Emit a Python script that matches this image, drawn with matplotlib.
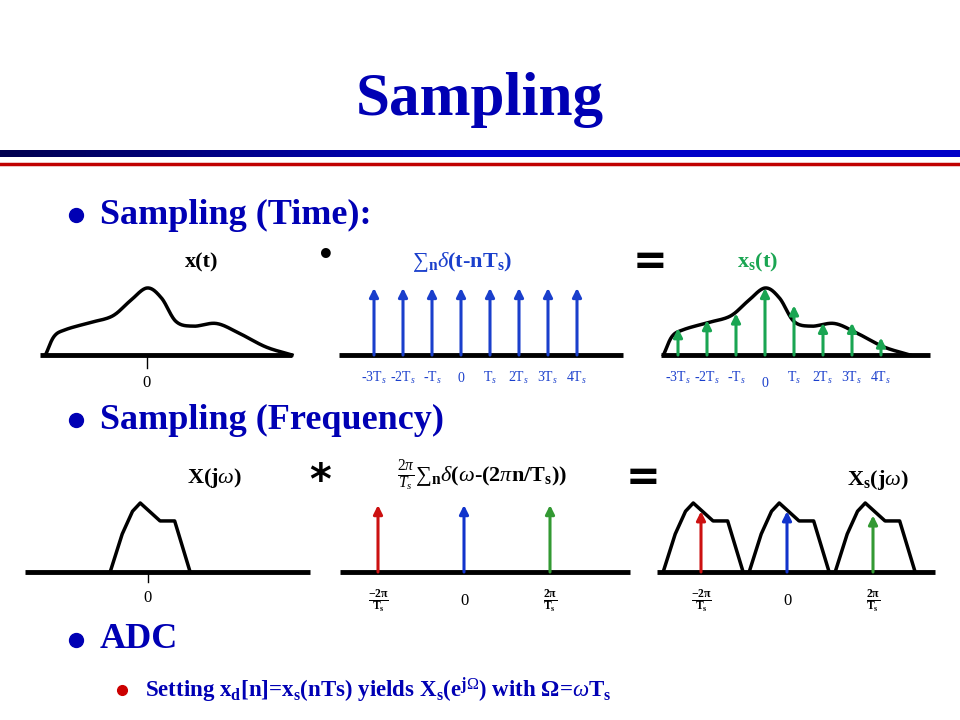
import numpy as np
import matplotlib.pyplot as plt
from matplotlib.colors import LinearSegmentedColormap

# === DATA ===
# x(t): control points, t in units of Ts, amplitude normalised to peak = 1
CURVE_T = [-3.5, -3.2, -2.8, -2.0, -1.2, -0.6, 0.0, 0.5, 1.0, 1.6, 2.4, 3.2, 4.1, 5.0]
CURVE_A = [0.0, 0.28, 0.38, 0.48, 0.58, 0.80, 1.0, 0.85, 0.50, 0.43, 0.47, 0.32, 0.12, 0.0]
COMB_N = [-3, -2, -1, 0, 1, 2, 3, 4]
COMB_LABELS = ["-3T$_s$", "-2T$_s$", "-T$_s$", "0", "T$_s$", "2T$_s$", "3T$_s$", "4T$_s$"]
SAMPLE_H = [0.40, 0.52, 0.62, 1.0, 0.74, 0.48, 0.48, 0.26]
# X(jw): piecewise shape, w in units of 2*pi/Ts
SPEC_W = [-0.44, -0.30, -0.18, -0.09, 0.14, 0.31, 0.49]
SPEC_A = [0.0, 0.55, 0.88, 1.0, 0.74, 0.74, 0.0]
FREQ_K = [-1, 0, 1]
FREQ_COLORS = ["#cc1111", "#1133cc", "#339933"]
FREQ_ARROW_H = [0.97, 0.97, 0.97]
FREQ_ARROW_H2 = [0.88, 0.88, 0.82]

BLUE = "#0000b4"
TBLUE = "#1a3fcc"
GREEN = "#1aa552"
SERIF = "Liberation Serif"

plt.rcParams["mathtext.fontset"] = "custom"
plt.rcParams["mathtext.rm"] = SERIF
plt.rcParams["mathtext.it"] = SERIF + ":italic"
plt.rcParams["mathtext.bf"] = SERIF + ":bold"

fig = plt.figure(figsize=(9.6, 7.2), dpi=100)
base = fig.add_axes([0, 0, 1, 1])
base.set_xlim(0, 960); base.set_ylim(720, 0); base.axis("off")


def panel(zero_px, base_px, xscale, yscale):
    """Transparent full-figure axes whose origin sits at the given pixel."""
    ax = fig.add_axes([0, 0, 1, 1], facecolor="none")
    ax.set_xlim(-zero_px / xscale, (960 - zero_px) / xscale)
    ax.set_ylim((base_px - 720) / yscale, base_px / yscale)
    ax.axis("off")
    return ax


def smooth(xs, ys, n=30):
    xs, ys = np.asarray(xs, float), np.asarray(ys, float)
    px = np.r_[2 * xs[0] - xs[1], xs, 2 * xs[-1] - xs[-2]]
    py = np.r_[2 * ys[0] - ys[1], ys, 2 * ys[-1] - ys[-2]]
    ox, oy = [], []
    for i in range(1, len(px) - 2):
        s = np.linspace(0, 1, n, endpoint=False)
        for p, o in ((px, ox), (py, oy)):
            p0, p1, p2, p3 = p[i - 1], p[i], p[i + 1], p[i + 2]
            o.extend(0.5 * (2 * p1 + (-p0 + p2) * s + (2 * p0 - 5 * p1 + 4 * p2 - p3) * s**2
                            + (-p0 + 3 * p1 - 3 * p2 + p3) * s**3))
    ox.append(xs[-1]); oy.append(ys[-1])
    return np.array(ox), np.array(oy)


def arrow(ax, x, h, color, lw=2.2):
    ax.annotate("", xy=(x, h), xytext=(x, 0),
                arrowprops=dict(arrowstyle="-|>", color=color, lw=lw,
                                mutation_scale=13, shrinkA=0, shrinkB=0))


# ---------- header ----------
base.text(480, 100, "Sampling", ha="center", va="center", fontsize=44,
          fontweight="bold", color=BLUE, family=SERIF)
grad = LinearSegmentedColormap.from_list("g", ["#000050", "#0000c8", "#0000c8"])
base.imshow(np.linspace(0, 1, 200)[None, :], cmap=grad, aspect="auto",
            extent=(0, 960, 157, 150))
base.plot([0, 960], [164, 164], color="#c00000", lw=2.5)

# bullets
for y, txt in ((215, "Sampling (Time):"), (420, "Sampling (Frequency)"), (640, "ADC")):
    base.plot(76, y, "o", color=BLUE, ms=10)
    base.text(100, y, txt, ha="left", va="center", fontsize=26, fontweight="bold",
              color=BLUE, family=SERIF)
base.plot(122, 690, "o", color="#cc0000", ms=7)
base.text(145, 690, r"Setting x$_\mathbf{d}$[n]=x$_\mathbf{s}$(nTs) yields X$_\mathbf{s}$(e$^{\mathbf{j}\Omega}$) with $\mathbf{\Omega}$=$\omega$T$_\mathbf{s}$",
          ha="left", va="center", fontsize=16.5, fontweight="bold", color=BLUE, family=SERIF)

# ---------- time domain ----------
TS = 29.0   # px per Ts
AH = 67.0   # px per unit amplitude
ct, ca = smooth(CURVE_T, CURVE_A)

ax1 = panel(147, 355, TS, AH)
ax1.plot([-3.7, 5.0], [0, 0], color="black", lw=3.5, solid_capstyle="butt")
ax1.plot(ct, ca, color="black", lw=2.5)
ax1.plot([0, 0], [0, -0.2], color="black", lw=1)
ax1.text(0, -0.42, "0", ha="center", va="center", fontsize=12, family=SERIF)
base.text(202, 262, "x(t)", ha="center", va="center", fontsize=16, fontweight="bold", family=SERIF)
base.text(326, 256, "•", ha="center", va="center", fontsize=20, fontweight="bold")

ax2 = panel(461, 355, TS, AH)
ax2.plot([-4.2, 5.6], [0, 0], color="black", lw=3.5, solid_capstyle="butt")
for n, lab in zip(COMB_N, COMB_LABELS):
    arrow(ax2, n, 1.0, TBLUE)
    ax2.text(n, -0.35, lab, ha="center", va="center", fontsize=10, color=TBLUE, family=SERIF)
base.text(462, 262, r"$\sum$$_\mathbf{n}$$\delta$(t-nT$_\mathbf{s}$)", ha="center", va="center",
          fontsize=16, fontweight="bold", color=TBLUE, family=SERIF)
base.text(650, 262, "=", ha="center", va="center", fontsize=30, fontweight="bold")

ax3 = panel(765, 355, TS, AH)
ax3.plot([-3.6, 5.7], [0, 0], color="black", lw=3.5, solid_capstyle="butt")
ax3.plot(ct, ca, color="black", lw=2.5)
for n, h, lab in zip(COMB_N, SAMPLE_H, COMB_LABELS):
    arrow(ax3, n, h, GREEN)
    ax3.text(n, -0.35 - (0.08 if n == 0 else 0), lab, ha="center", va="center",
             fontsize=10, color=TBLUE, family=SERIF)
base.text(758, 262, r"x$_\mathbf{s}$(t)", ha="center", va="center", fontsize=16,
          fontweight="bold", color=GREEN, family=SERIF)

# ---------- frequency domain ----------
WS = 86.0
FH = 69.0
frac = [r"$\frac{\mathbf{-2\pi}}{\mathbf{T_s}}$", "0", r"$\frac{\mathbf{2\pi}}{\mathbf{T_s}}$"]

bx1 = panel(148, 572, WS, FH)
bx1.plot([-1.43, 1.88], [0, 0], color="black", lw=3.5, solid_capstyle="butt")
bx1.plot(SPEC_W, SPEC_A, color="black", lw=2.5)
bx1.plot([0, 0], [0, -0.15], color="black", lw=1)
bx1.text(0, -0.38, "0", ha="center", va="center", fontsize=12, family=SERIF)
base.text(215, 478, r"X(j$\omega$)", ha="center", va="center", fontsize=16,
          fontweight="bold", family=SERIF)
base.text(320, 482, "*", ha="center", va="center", fontsize=30, fontweight="bold")

bx2 = panel(464, 572, WS, FH)
bx2.plot([-1.44, 1.93], [0, 0], color="black", lw=3.5, solid_capstyle="butt")
for k, c, h, f in zip(FREQ_K, FREQ_COLORS, FREQ_ARROW_H, frac):
    arrow(bx2, k, h, c)
    bx2.text(k, -0.42, f, ha="center", va="center", fontsize=12, family=SERIF)
base.text(482, 476, r"$\frac{2\pi}{T_s}$$\sum$$_\mathbf{n}$$\delta$($\omega$-(2$\pi$n/T$_\mathbf{s}$))",
          ha="center", va="center", fontsize=16, fontweight="bold", family=SERIF)
base.text(643, 478, "=", ha="center", va="center", fontsize=30, fontweight="bold")

bx3 = panel(787, 572, WS, FH)
bx3.plot([-1.51, 1.72], [0, 0], color="black", lw=3.5, solid_capstyle="butt")
for k, c, h, f in zip(FREQ_K, FREQ_COLORS, FREQ_ARROW_H2, frac):
    bx3.plot(np.asarray(SPEC_W) + k, SPEC_A, color="black", lw=2.5)
    arrow(bx3, k, h, c)
    bx3.text(k, -0.42, f, ha="center", va="center", fontsize=12, family=SERIF)
base.text(878, 480, r"X$_\mathbf{s}$(j$\omega$)", ha="center", va="center", fontsize=16,
          fontweight="bold", family=SERIF)

fig.savefig("out.png", dpi=100)
